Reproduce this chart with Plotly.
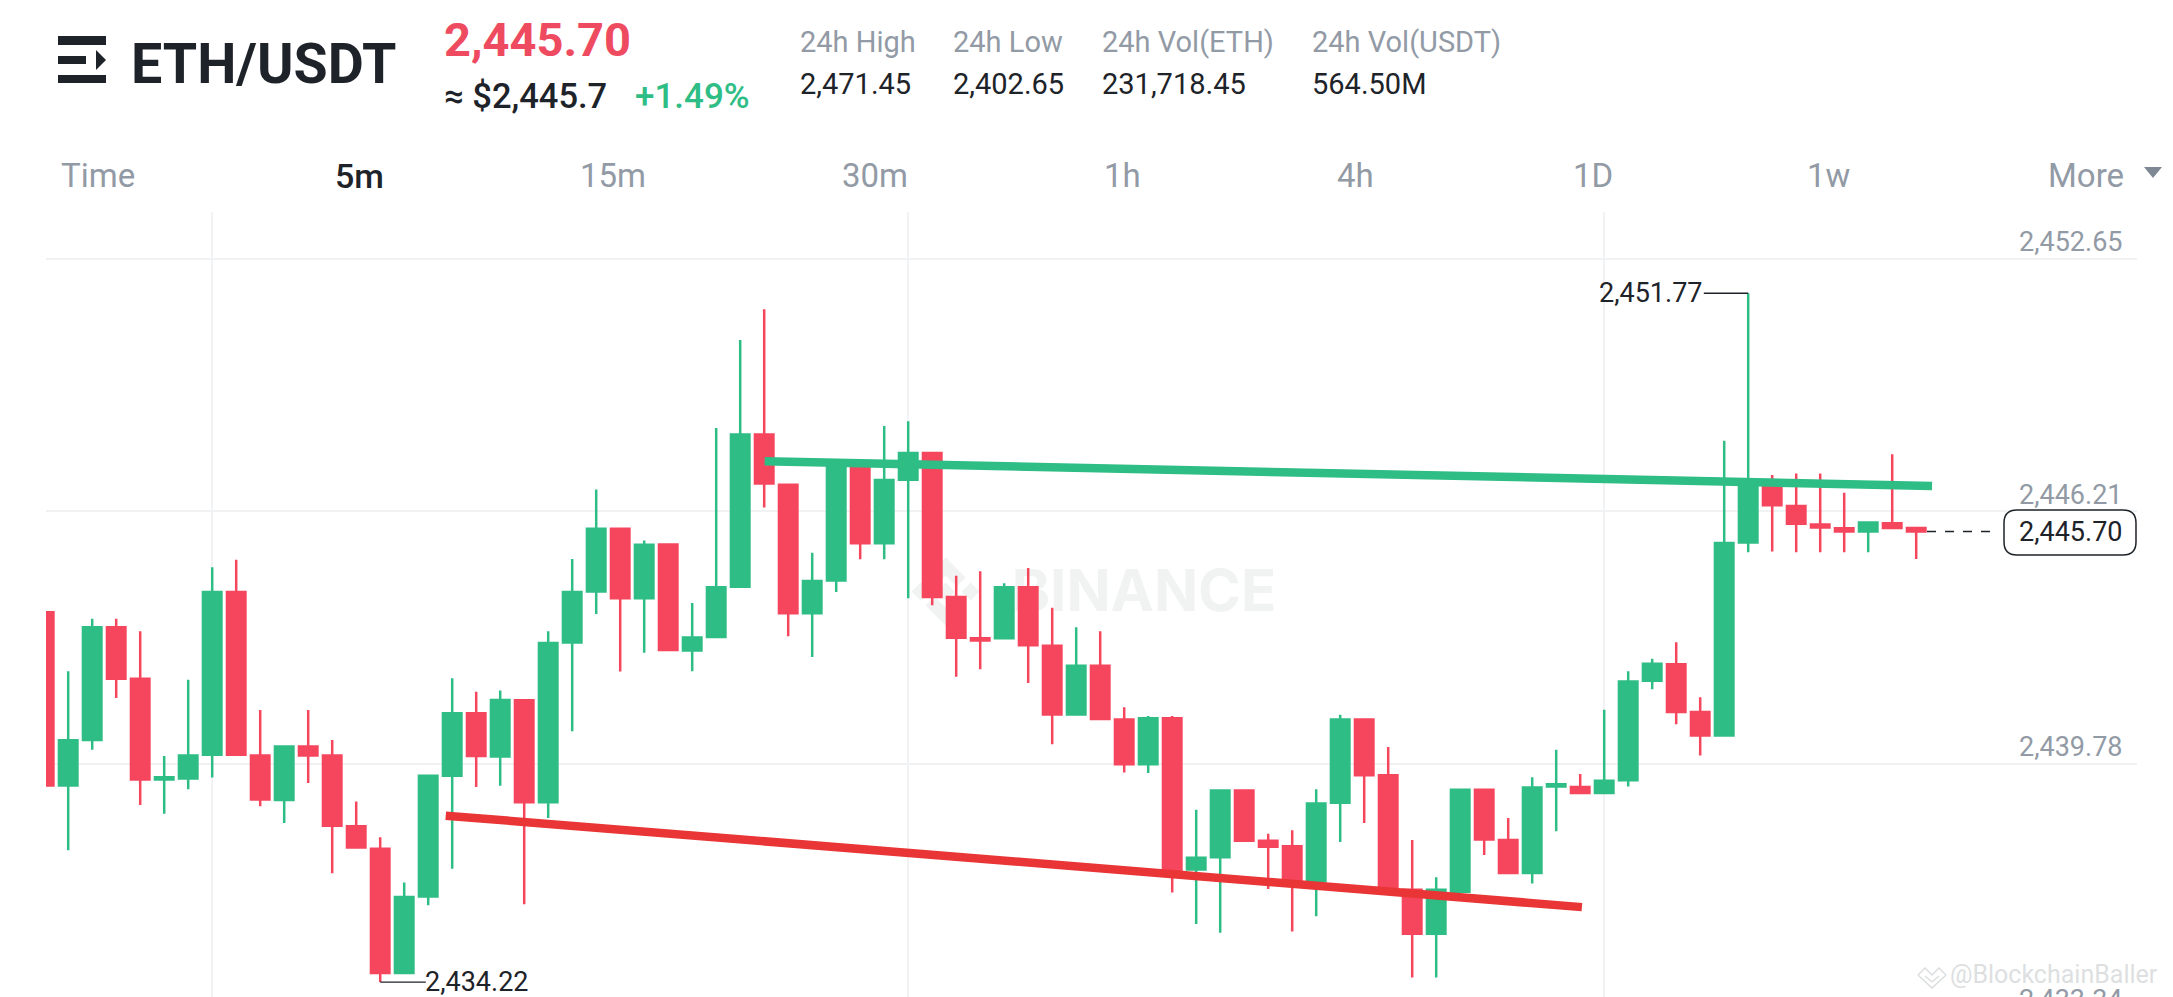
import plotly.graph_objects as go

# ---------- data ----------
opens = [2443.64,2439.23,2440.39,2443.26,2441.95,2439.38,2439.41,2440.01,2444.16,2439.99,
         2438.86,2440.22,2439.99,2438.19,2437.62,2434.45,2436.40,2439.48,2441.07,2439.97,
         2441.40,2438.80,2442.87,2444.17,2445.77,2444.00,2445.37,2442.67,2443.01,2444.29,
         2448.17,2446.89,2443.62,2444.45,2447.47,2445.40,2447.02,2447.70,2444.03,2442.98,
         2442.98,2444.28,2442.79,2441.04,2442.28,2440.91,2439.77,2440.94,2437.09,2437.40,
         2439.10,2437.82,2437.68,2436.79,2438.79,2440.91,2439.49,2436.57,2435.45,2436.52,
         2439.12,2437.84,2437.00,2439.20,2439.19,2439.04,2439.36,2441.90,2442.32,2441.10,
         2440.50,2445.42,2446.83,2446.35,2445.88,2445.78,2445.70,2445.91,2445.79]
highs = [2443.64,2442.14,2443.48,2443.48,2443.16,2439.98,2441.92,2444.79,2444.98,2441.15,
         2440.22,2441.15,2440.39,2438.82,2437.91,2436.76,2439.48,2441.96,2441.62,2441.65,
         2441.40,2443.16,2445.00,2446.77,2445.77,2445.47,2445.37,2443.88,2448.34,2450.58,
         2451.36,2446.89,2445.16,2447.47,2447.47,2448.39,2448.51,2447.70,2444.57,2444.69,
         2444.38,2444.77,2443.76,2443.26,2443.16,2441.22,2441.00,2441.00,2438.61,2439.10,
         2439.10,2438.00,2438.09,2439.13,2441.03,2440.91,2440.21,2437.84,2436.89,2439.12,
         2439.12,2438.40,2439.44,2440.14,2439.52,2441.16,2442.14,2442.46,2442.88,2441.48,
         2448.01,2451.77,2447.14,2447.18,2447.18,2446.69,2445.96,2447.67,2445.79]
lows = [2439.23,2437.58,2440.14,2441.46,2438.73,2438.51,2439.13,2439.43,2440.01,2438.70,
        2438.27,2439.29,2436.99,2437.65,2434.22,2434.45,2436.18,2437.11,2439.19,2439.22,
        2436.20,2438.40,2440.61,2443.60,2442.13,2442.61,2442.68,2442.14,2443.01,2444.29,
        2446.31,2443.03,2442.50,2444.16,2444.99,2444.99,2444.00,2443.82,2442.00,2442.19,
        2442.98,2441.84,2440.28,2441.04,2440.92,2439.56,2439.55,2436.50,2435.70,2435.48,
        2437.79,2436.59,2435.51,2435.90,2437.79,2438.27,2436.57,2434.34,2434.34,2436.52,
        2437.46,2437.00,2436.73,2438.06,2439.04,2439.04,2439.20,2441.68,2440.79,2439.99,
        2440.50,2445.17,2445.19,2445.17,2445.17,2445.17,2445.17,2445.79,2445.00]
closes = [2439.23,2440.38,2443.26,2441.95,2439.38,2439.44,2439.99,2444.16,2440.01,2438.87,
          2440.22,2439.99,2438.20,2437.65,2434.45,2436.39,2439.48,2441.07,2439.98,2441.41,
          2438.80,2442.86,2444.16,2445.77,2444.00,2445.36,2442.68,2443.00,2444.28,2448.17,
          2446.92,2443.62,2444.44,2447.47,2445.40,2447.01,2447.70,2444.03,2442.99,2442.92,
          2444.28,2442.80,2441.04,2442.28,2440.92,2439.77,2440.94,2437.05,2437.39,2439.10,
          2437.82,2437.67,2436.75,2438.77,2440.91,2439.49,2436.57,2435.45,2436.57,2439.12,
          2437.85,2437.00,2439.18,2439.26,2439.04,2439.35,2441.88,2442.33,2441.10,2440.50,
          2445.41,2446.93,2446.37,2445.90,2445.80,2445.70,2445.93,2445.79,2445.70]
candle_index = list(range(len(opens)))

price_ticks = [2452.65, 2446.21, 2439.78, 2433.34]
price_tick_labels = ["2,452.65", "2,446.21", "2,439.78", "2,433.34"]
time_grid = [7, 36, 65]

resistance_x = [30.02, 78.66]
resistance_y = [2447.49, 2446.86]
support_x = [16.73, 64.07]
support_y = [2438.46, 2436.13]

max_index, max_price, max_label = 71, 2451.77, "2,451.77"
min_index, min_price, min_label = 14, 2434.22, "2,434.22"
last_price, last_label = 2445.70, "2,445.70"
stat_titles = ["24h High", "24h Low", "24h Vol(ETH)", "24h Vol(USDT)"]
stat_values = ["2,471.45", "2,402.65", "231,718.45", "564.50M"]
tab_labels = ["Time", "5m", "15m", "30m", "1h", "4h", "1D", "1w", "More"]

# ---------- style ----------
W, H = 2173, 997
GREEN, RED = "#2EBD85", "#F6465D"
DARK, GRAY = "#1E2329", "#929AA5"
FONT = "Roboto"
stat_x = [798, 951, 1100, 1310]
tab_x = [59, 333, 578, 840, 1102, 1335, 1571, 1805, 2046]
Y_RANGE = [2433.84, 2453.84]
X_RANGE = [0.075, 87.2]
Y_TOP = 212


def px(x):
    return x / W


def py(y):
    return 1 - y / H


def price_paper(p):
    frac = (p - Y_RANGE[0]) / (Y_RANGE[1] - Y_RANGE[0])
    return frac * (1 - Y_TOP / H)


def label(text, x, y, size, color, weight=400, anchor="left"):
    return dict(text=text, x=px(x), y=py(y), xref="paper", yref="paper",
                xanchor=anchor, yanchor="middle", showarrow=False,
                font=dict(family=FONT, size=size, color=color, weight=weight))


fig = go.Figure()
fig.add_trace(go.Candlestick(
    x=candle_index, open=opens, high=highs, low=lows, close=closes,
    whiskerwidth=0, hoverinfo="skip", showlegend=False,
    increasing=dict(line=dict(color=GREEN, width=2.5), fillcolor=GREEN),
    decreasing=dict(line=dict(color=RED, width=2.5), fillcolor=RED),
))


def line(x, y, color, width, dash="solid"):
    fig.add_trace(go.Scatter(x=x, y=y, mode="lines", hoverinfo="skip", showlegend=False,
                             line=dict(color=color, width=width, dash=dash)))


line(resistance_x, resistance_y, GREEN, 8.5)
line(support_x, support_y, "#E93535", 8.5)
line([max_index, 69.15], [max_price, max_price], DARK, 1.4)
line([min_index, 15.9], [min_price, min_price], DARK, 1.4)
line([78.45, 81.2], [last_price, last_price], DARK, 1.4, "dash")

ann = [
    label("ETH/USDT", 129, 64, 55.5, DARK, 700),
    label("2,445.70", 442, 39, 47, "#EE4A60", 700),
    label("≈ $2,445.7", 442, 96, 34.5, DARK, 500),
    label("+1.49%", 633, 96, 35, GREEN, 500),
]
for t, v, x in zip(stat_titles, stat_values, stat_x):
    ann.append(label(t, x, 42, 29, GRAY))
    ann.append(label(v, x, 84, 29, DARK))
for i, (t, x) in enumerate(zip(tab_labels, tab_x)):
    ann.append(label(t, x, 176, 34 if i == 1 else 33, DARK if i == 1 else GRAY, 500 if i == 1 else 400))
for p, t in zip(price_ticks, price_tick_labels):
    ann.append(label(t, 2124, (1 - price_paper(p)) * H - 16.5, 27, GRAY, 400, "right"))
ann.append(dict(text=max_label, x=69.15, y=max_price, xref="x", yref="y", xanchor="right",
                yanchor="middle", showarrow=False, font=dict(family=FONT, size=27, color=DARK)))
ann.append(dict(text=min_label, x=15.78, y=min_price, xref="x", yref="y", xanchor="left",
                yanchor="middle", showarrow=False, font=dict(family=FONT, size=27, color=DARK)))
ann.append(label(last_label, 2070, 532, 27, DARK, 400, "center"))
ann.append(label("@BlockchainBaller", 1948, 974, 25, "#DDDFE1"))


def P(x, y):
    return f"{px(x):.5f},{py(y):.5f}"


def path(points, close=True):
    return "M" + " L".join(P(a, b) for a, b in points) + (" Z" if close else "")


def rect(x0, y0, x1, y1, color=DARK):
    return dict(type="rect", xref="paper", yref="paper", x0=px(x0), x1=px(x1),
                y0=py(y1), y1=py(y0), fillcolor=color, line_width=0)


def rpath(x0, y0, x1, y1, r):
    c = lambda a, b: P(a, b)
    return (f"M{c(x0+r,y0)} L{c(x1-r,y0)} Q{c(x1,y0)} {c(x1,y0+r)} L{c(x1,y1-r)} "
            f"Q{c(x1,y1)} {c(x1-r,y1)} L{c(x0+r,y1)} Q{c(x0,y1)} {c(x0,y1-r)} "
            f"L{c(x0,y0+r)} Q{c(x0,y0)} {c(x0+r,y0)} Z")


def pshape(d, fill=None, color=None, width=0, layer="above"):
    s = dict(type="path", xref="paper", yref="paper", path=d, layer=layer)
    if fill:
        s["fillcolor"] = fill
    s["line"] = dict(color=color or "rgba(0,0,0,0)", width=width)
    return s


WM = "#F1F2F2"
MARK = "#D9DBDD"
cx, cy = 945.6, 591.4
shapes = [
    rect(58, 36, 106, 45), rect(58, 56, 86, 64), rect(58, 75, 106, 83),
    pshape(path([(96, 50), (106, 60), (96, 70)]), fill=DARK),
    pshape(rpath(2004, 510, 2136, 555, 13), fill="white", color=DARK, width=1.5),
    # exchange watermark, behind the candles
    dict(type="rect", xref="paper", yref="paper", x0=px(993), x1=px(1295), y0=py(623), y1=py(553),
         line_width=0, fillcolor="rgba(0,0,0,0)", layer="below",
         label=dict(text="BINANCE", textposition="middle center",
                    font=dict(family="Inter", size=58, color=WM, weight=700))),
    pshape(path([(cx-9, cy), (cx, cy-9), (cx+9, cy), (cx, cy+9)]), fill=WM, layer="below"),
    pshape(path([(cx-34, cy), (cx-25, cy-9), (cx-16, cy), (cx-25, cy+9)]), fill=WM, layer="below"),
    pshape(path([(cx+34, cy), (cx+25, cy-9), (cx+16, cy), (cx+25, cy+9)]), fill=WM, layer="below"),
    pshape(path([(cx-20, cy-14), (cx, cy-34), (cx+20, cy-14), (cx+11, cy-5), (cx, cy-16), (cx-11, cy-5)]),
           fill=WM, layer="below"),
    pshape(path([(cx-20, cy+14), (cx, cy+34), (cx+20, cy+14), (cx+11, cy+5), (cx, cy+16), (cx-11, cy+5)]),
           fill=WM, layer="below"),
    # author watermark mark
    pshape(path([(1918, 975), (1925, 968), (1932, 975), (1939, 968), (1946, 975)], close=False),
           color=MARK, width=1.3),
    pshape(path([(1918, 975), (1932, 988), (1946, 975)], close=False), color=MARK, width=1.3),
    pshape(path([(1925, 976), (1932, 982), (1939, 976)], close=False), color=MARK, width=1.3),
]
# dropdown arrow next to "More"
shapes.append(pshape(path([(2144, 167), (2162, 167), (2153, 178)]), fill="#7E8794"))

fig.update_layout(
    width=W, height=H, autosize=False,
    margin=dict(l=0, r=0, t=0, b=0),
    paper_bgcolor="white", plot_bgcolor="white",
    boxgap=0.23, boxgroupgap=0,
    annotations=ann, shapes=shapes,
    xaxis=dict(domain=[46 / W, 2137 / W], range=X_RANGE, rangeslider_visible=False,
               tickvals=time_grid, showticklabels=False, ticks="", showgrid=True,
               gridcolor="#F1F2F3", gridwidth=1.5, zeroline=False, showline=False),
    yaxis=dict(domain=[0, 1 - Y_TOP / H], range=Y_RANGE, tickvals=price_ticks,
               showticklabels=False, ticks="", showgrid=True,
               gridcolor="#F1F2F3", gridwidth=1.5, zeroline=False, showline=False),
)

fig.write_html("out.html", config=dict(displayModeBar=False),
               post_script="document.body.style.margin='0';document.body.style.overflow='hidden';")
